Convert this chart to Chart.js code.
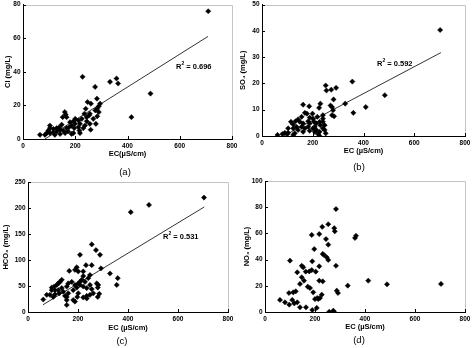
<!DOCTYPE html>
<html><head><meta charset="utf-8">
<script src="https://cdn.jsdelivr.net/npm/chart.js@4.4.1/dist/chart.umd.min.js"></script>
<style>
html,body{margin:0;padding:0;background:#fff;width:474px;height:348px;overflow:hidden;font-family:'Liberation Sans',Arial,sans-serif;}
.panel{position:absolute;overflow:hidden;}
.lbl{position:absolute;transform:translate(-50%,-50%);font-family:'Liberation Sans',Arial,sans-serif;font-size:9.5px;color:#000;white-space:nowrap;}
.r2{position:absolute;transform:translateY(-50%);font-family:'Liberation Sans',Arial,sans-serif;font-size:7.5px;font-weight:bold;color:#000;white-space:nowrap;}
.r2 sup{font-size:5px;position:relative;top:-1px;vertical-align:top;line-height:1;}
</style></head><body>
<div class="panel" style="left:0;top:0;width:237px;height:174px"><canvas id="ca"></canvas></div>
<div class="panel" style="left:237px;top:0;width:237px;height:174px"><canvas id="cb"></canvas></div>
<div class="panel" style="left:0;top:174px;width:237px;height:174px"><canvas id="cc"></canvas></div>
<div class="panel" style="left:237px;top:174px;width:237px;height:174px"><canvas id="cd"></canvas></div>
<div class="r2" style="left:176px;top:66px">R<sup>2</sup> = 0.696</div>
<div class="r2" style="left:377px;top:63px">R<sup>2</sup> = 0.592</div>
<div class="r2" style="left:163px;top:236px">R<sup>2</sup> = 0.531</div>
<div class="lbl" style="left:125px;top:171px">(a)</div>
<div class="lbl" style="left:359px;top:166px">(b)</div>
<div class="lbl" style="left:122px;top:340px">(c)</div>
<div class="lbl" style="left:359px;top:339px">(d)</div>
<script>
// ---- data ----
const ecA = [709,228,276,333,358,364,488,415,283,247,260,295,290,284,277,240,160,163,167,152,235,244,256,284,290,253,225,212,193,180,200,244,256,237,218,199,186,176,196,212,231,216,259,218,193,148,139,129,116,103,103,142,154,129,116,103,91,97,84,65,122,142,173,186,161,167,269,279];
const clA = [76,37,31,34,36,33,27,13,24,22,21,21,19.5,18,17,18,16,14.5,13,13,15,13,15,13.5,16,14,12,11,10.5,10,12,10.5,9,8,9,9,8,7,6.5,7,6.5,5,5.5,3.5,3.5,8.5,7,6.5,6,6.5,8,5.5,5,4.5,4,3.5,3.5,5,2.5,2.5,2.5,3,4.5,3,3.5,6.5,12,9];

const ecB = [702,356,251,254,273,292,282,328,360,409,484,162,186,230,225,270,276,169,199,177,280,276,284,240,240,218,201,188,156,142,132,114,123,149,162,182,188,205,214,227,240,247,230,208,201,182,169,156,136,123,103,142,162,188,214,227,247,251,221,227,129,103,90,80,61,99,123,208,240];
const so4B = [40.3,20.7,19.2,17.3,17.6,18.3,13.9,12.3,8.8,11,15.5,11.9,11.3,12.3,10.7,11.6,11,8.8,8.5,8.5,9.8,7.9,7.5,7.9,6.6,7.3,6.6,7,7.3,6.3,5.6,5.4,4.4,5.4,4.8,5.6,4.8,5.4,4.8,5.4,5.4,4.1,4.1,3.5,2.9,3.5,2.9,3.5,3.5,2.9,2.9,2.3,1.6,2,2.3,1.6,2.3,1,0.75,0,1,1.2,1.2,0.75,0.4,0.75,0.4,1.6,2.9];

const ecC = [704,484,411,255,272,208,288,292,232,255,195,188,201,165,221,248,221,215,241,228,208,201,188,175,161,155,135,128,121,115,105,95,108,95,121,135,141,125,108,88,75,101,148,161,181,195,208,221,235,248,255,275,281,279,285,279,248,235,221,235,197,201,181,155,155,155,61,188,261,328,355,359];
const hco3C = [220,206,192,130,119,110,110,84,90,90,86,81,78,79,78,71,69,62,65,58,58,55,52,58,55,49,62,58,55,52,49,47,42,42,42,46,39,36,34,33,33,29,31,36,42,47,52,49,46,52,44,55,52,47,35,29,33,31,28,26,29,36,23,29,23,13.5,24,20,36,74,52,65];

const ecD = [284,253,229,277,279,187,217,253,244,360,364,197,231,236,247,253,189,100,147,153,217,284,129,177,187,163,203,147,156,217,231,140,171,180,193,123,113,96,287,292,331,413,488,704,227,209,200,213,220,109,60,80,117,129,97,140,164,189,207,257,273,276];
const no3D = [78.6,67,65,64,61.6,58.8,59.5,51.4,55.7,56.5,58.2,48,44.3,43.5,41.7,39.7,38.7,39.2,35.3,34.1,34.9,35.3,30.3,31,32,30.8,30.8,26.5,23.9,23.9,23.4,21.4,19.3,18.3,15,15.8,15,14.5,16.3,14.5,20.1,23.9,21.1,21.4,13.2,10.7,9.9,9.9,10.7,9.2,9.2,7.4,6.6,7.4,5.6,3.6,3.6,1.5,3.1,0.2,1,0.2];

// trendline end points (EC, value)
const trendAx = [84, 708], trendAy = [0, 61];
const trendBx = [84, 705], trendBy = [0, 31.7];
const trendCx = [60, 705], trendCy = [14, 202];

const xTicksMax = 800, xTickStep = 200;

// ---- drawing ----
const FONT = "'Liberation Sans', Arial, sans-serif";
const insideTicks = {
  id: 'insideTicks',
  afterDraw(chart) {
    const {ctx, chartArea: a, scales: {x, y}} = chart;
    ctx.save();
    ctx.strokeStyle = '#c4c4c4'; ctx.lineWidth = 1;
    ctx.beginPath();
    ctx.moveTo(a.left, Math.round(a.top) + 0.5);
    ctx.lineTo(Math.round(a.right) + 0.5, Math.round(a.top) + 0.5);
    ctx.lineTo(Math.round(a.right) + 0.5, a.bottom);
    ctx.stroke();
    ctx.strokeStyle = '#000';
    ctx.beginPath();
    x.ticks.forEach(t => {
      const px = Math.round(x.getPixelForValue(t.value)) + 0.5;
      ctx.moveTo(px, a.bottom); ctx.lineTo(px, a.bottom - 3);
    });
    y.ticks.forEach(t => {
      const py = Math.round(y.getPixelForValue(t.value)) + 0.5;
      ctx.moveTo(a.left, py); ctx.lineTo(a.left + 3, py);
    });
    ctx.stroke();
    ctx.restore();
  }
};

function makeChart(id, cfg) {
  const H = 174;
  const cv = document.getElementById(id);
  cv.width = cfg.canvasW; cv.height = H;
  cv.style.width = cfg.canvasW + 'px'; cv.style.height = H + 'px';
  const pts = cfg.xs.map((v, i) => ({x: v, y: cfg.ys[i]}));
  const datasets = [{
    data: pts, pointStyle: 'rectRot', pointRadius: 2.6, backgroundColor: '#000',
    borderColor: '#000', borderWidth: 0.5, showLine: false, order: 1
  }];
  if (cfg.tx) {
    datasets.push({
      data: cfg.tx.map((v, i) => ({x: v, y: cfg.ty[i]})),
      showLine: true, pointRadius: 0, borderColor: '#333', borderWidth: 1, fill: false, order: 2
    });
  }
  const a = cfg.area;
  return new Chart(cv, {
    type: 'scatter',
    data: {datasets},
    plugins: [insideTicks],
    options: {
      responsive: false, animation: false, devicePixelRatio: 1, events: [],
      layout: {padding: {left: 0, top: a.t, right: cfg.canvasW - a.r, bottom: H - a.b - cfg.xh}},
      plugins: {legend: {display: false}, tooltip: {enabled: false}},
      scales: {
        x: {
          type: 'linear', min: 0, max: xTicksMax,
          ticks: {stepSize: xTickStep, color: '#000', padding: 3.5, font: {family: FONT, size: 6.5, weight: 'bold'}},
          grid: {display: false, drawTicks: false},
          border: {display: true, color: '#000', width: 1},
          title: {display: true, text: cfg.xTitle, color: '#000', padding: {top: 0, bottom: 0.5}, font: {family: FONT, size: 7.5, weight: 'bold'}},
          afterFit(s) { s.height = cfg.xh; s.paddingLeft = 0; s.paddingRight = 0; }
        },
        y: {
          type: 'linear', min: 0, max: cfg.yMax,
          ticks: {stepSize: cfg.yStep, color: '#000', padding: 2.5, font: {family: FONT, size: 6.5, weight: 'bold'}},
          grid: {display: false, drawTicks: false},
          border: {display: true, color: '#000', width: 1},
          title: {display: true, text: cfg.yTitle, color: '#000', padding: {top: cfg.yTitlePad, bottom: 0}, font: {family: FONT, size: 7.5, weight: 'bold'}},
          afterFit(s) { s.width = a.l; s.paddingTop = 0; s.paddingBottom = 0; }
        }
      }
    }
  });
}

makeChart('ca', {canvasW: 280, area: {l: 23, t: 3, r: 232, b: 139}, xh: 20, yMax: 80, yStep: 20,
  yTitle: 'Cl (mg/L)', xTitle: 'EC(µS/cm)', yTitlePad: 3.5, xs: ecA, ys: clA, tx: trendAx, ty: trendAy});
makeChart('cb', {canvasW: 237, area: {l: 25, t: 3, r: 228, b: 136}, xh: 20, yMax: 50, yStep: 10,
  yTitle: 'SO₄ (mg/L)', xTitle: 'EC (µS/cm)', yTitlePad: 1.5, xs: ecB, ys: so4B, tx: trendBx, ty: trendBy});
makeChart('cc', {canvasW: 237, area: {l: 28, t: 8, r: 228, b: 138}, xh: 21, yMax: 250, yStep: 50,
  yTitle: 'HCO₃ (mg/L)', xTitle: 'EC (µS/cm)', yTitlePad: 1.5, xs: ecC, ys: hco3C, tx: trendCx, ty: trendCy});
makeChart('cd', {canvasW: 237, area: {l: 28, t: 7, r: 228, b: 138}, xh: 20, yMax: 100, yStep: 20,
  yTitle: 'NO₃ (mg/L)', xTitle: 'EC (µS/cm)', yTitlePad: 5.5, xs: ecD, ys: no3D});
</script>
</body></html>
